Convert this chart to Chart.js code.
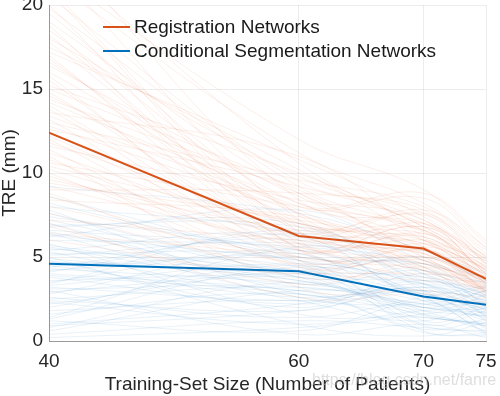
<!DOCTYPE html>
<html>
<head>
<meta charset="utf-8">
<script src="https://cdn.jsdelivr.net/npm/chart.js@4/dist/chart.umd.min.js"></script>
<style>
  html, body { margin: 0; padding: 0; background: #fff; }
  #frame { position: relative; width: 500px; height: 396px; overflow: hidden; }
  #box { position: absolute; left: 0; top: -5px; width: 500px; height: 401px; }
</style>
</head>
<body>
<div id="frame"><div id="box"><canvas id="c"></canvas></div></div>
<script>
// ---- data ----
const trainingSizes = [40, 60, 70, 75];
const xTickValues = [40, 60, 70, 75];
const yTickValues = [0, 5, 10, 15, 20];

const registrationLabel = 'Registration Networks';
const segmentationLabel = 'Conditional Segmentation Networks';

const registrationMean = [12.4, 6.25, 5.5, 3.7];
const segmentationMean = [4.6, 4.15, 2.65, 2.15];

// individual (faint) runs
const registrationRuns = [
  [20.5, 9.5, 7.8, 4.6], [19.0, 8.8, 6.5, 4.2], [18.2, 7.0, 7.5, 5.0], [17.5, 10.2, 6.0, 3.9],
  [16.8, 6.5, 5.2, 3.5], [16.0, 8.0, 8.5, 5.5], [15.5, 5.6, 6.8, 4.0], [15.0, 9.0, 5.0, 3.2],
  [14.6, 7.2, 4.6, 3.8], [14.0, 6.0, 7.0, 4.4], [13.6, 11.0, 6.2, 3.6], [13.2, 5.0, 5.8, 4.8],
  [12.8, 7.6, 4.2, 3.0], [12.4, 6.8, 6.6, 3.4], [12.0, 4.8, 5.4, 4.1], [11.6, 8.4, 7.2, 3.7],
  [11.2, 6.2, 4.8, 2.8], [10.8, 5.4, 6.0, 4.5], [10.4, 7.0, 5.6, 3.3], [10.0, 4.5, 4.0, 3.9],
  [9.6, 6.6, 6.4, 4.2], [9.2, 5.8, 5.2, 3.1], [8.8, 3.8, 4.4, 3.6], [8.4, 7.4, 5.0, 2.9],
  [8.0, 5.2, 6.8, 4.0], [7.6, 4.2, 3.6, 3.2], [7.2, 6.0, 5.4, 3.8], [6.8, 3.4, 4.6, 2.7],
  [6.4, 5.0, 3.8, 3.5], [6.0, 4.0, 5.0, 3.0], [22.0, 12.0, 9.0, 5.8], [21.0, 6.5, 5.5, 3.6],
  [19.5, 7.5, 4.8, 3.3], [18.0, 9.8, 7.2, 4.7], [17.0, 5.5, 4.2, 2.6], [16.4, 8.6, 6.0, 4.3],
  [13.0, 9.6, 8.0, 5.2], [11.0, 3.2, 3.0, 2.5], [9.0, 8.8, 7.6, 4.6], [7.0, 2.6, 2.8, 2.2],
  [23.0, 10.6, 6.8, 4.9], [20.0, 5.8, 6.2, 3.4], [14.2, 8.2, 5.6, 2.9], [10.2, 6.4, 7.8, 5.4],
  [24.0, 8.4, 7.0, 5.1], [22.5, 7.2, 5.8, 4.0], [21.5, 11.2, 8.2, 5.6], [20.8, 6.0, 4.4, 3.1],
  [19.8, 9.2, 6.6, 4.4], [18.8, 5.4, 5.0, 3.7], [18.5, 8.2, 8.8, 6.0], [17.8, 6.8, 6.2, 4.1],
  [17.2, 10.8, 7.4, 4.8], [16.6, 7.6, 5.4, 3.4], [15.8, 4.8, 4.8, 3.0], [15.2, 10.0, 6.8, 4.6],
  [14.8, 6.4, 7.6, 5.0], [14.4, 8.8, 5.2, 3.5], [13.8, 5.4, 6.4, 4.2], [13.4, 7.8, 4.4, 3.3],
  [12.6, 9.2, 7.0, 4.9], [12.2, 5.8, 4.6, 2.9], [11.8, 7.0, 6.0, 3.9], [11.4, 4.4, 5.6, 4.3],
  [10.6, 8.0, 6.6, 3.6], [9.8, 5.6, 4.2, 3.2], [9.4, 7.2, 5.8, 4.4], [8.6, 4.6, 5.4, 3.0]
];
const segmentationRuns = [
  [0.4, 1.2, 0.8, 0.5], [0.8, 3.5, 1.5, 1.0], [1.2, 0.6, 2.4, 1.6], [1.6, 2.8, 0.5, 0.3],
  [2.0, 4.5, 2.0, 2.4], [2.4, 1.8, 3.2, 1.2], [2.8, 5.2, 1.2, 2.0], [3.2, 2.4, 2.8, 0.8],
  [3.6, 4.0, 3.8, 2.8], [4.0, 3.0, 1.8, 1.5], [4.4, 6.0, 2.6, 3.2], [4.8, 2.0, 4.0, 2.2],
  [5.2, 4.8, 1.0, 1.8], [5.6, 3.2, 3.0, 2.6], [6.0, 5.6, 4.4, 1.4], [6.4, 2.6, 2.2, 3.0],
  [6.8, 7.0, 3.4, 2.4], [7.2, 4.2, 5.0, 3.6], [7.6, 3.8, 2.0, 1.7], [8.0, 6.4, 3.6, 2.9],
  [8.6, 5.0, 4.6, 3.4], [9.2, 7.6, 5.4, 4.0], [3.0, 0.4, 1.0, 0.2], [5.0, 1.0, 0.3, 1.1],
  [1.0, 2.2, 3.6, 2.6], [2.2, 3.8, 0.9, 0.6], [4.2, 5.0, 2.9, 1.9], [5.8, 1.6, 1.4, 0.9],
  [7.0, 3.4, 4.2, 2.7], [3.4, 6.6, 3.0, 1.3], [0.2, 0.8, 1.6, 2.1], [4.6, 4.4, 0.6, 0.4],
  [6.2, 7.8, 4.8, 3.8], [2.6, 1.4, 2.6, 3.3], [8.2, 4.6, 1.6, 1.0], [1.4, 5.6, 4.0, 2.3],
  [3.8, 2.2, 3.4, 1.8], [5.4, 6.2, 2.4, 2.5], [7.8, 2.8, 3.0, 0.7], [0.6, 3.0, 2.2, 1.4],
  [4.9, 3.6, 2.0, 3.0], [6.6, 5.4, 3.2, 1.6], [2.9, 4.2, 4.6, 2.0], [5.3, 2.4, 1.2, 2.8],
  [3.3, 4.6, 3.4, 2.2], [4.3, 3.4, 2.4, 1.2], [5.1, 5.8, 3.8, 2.6], [3.9, 2.8, 1.6, 0.9],
  [4.7, 4.2, 2.8, 1.9], [5.7, 3.6, 2.2, 2.3], [6.3, 4.8, 3.6, 3.1], [2.5, 3.2, 2.0, 1.5],
  [3.5, 5.4, 2.6, 0.5], [4.5, 2.6, 3.2, 2.7], [6.9, 6.8, 4.0, 2.0], [1.8, 2.4, 1.4, 1.1],
  [5.5, 4.0, 1.8, 0.6], [7.4, 5.2, 2.8, 2.2], [2.3, 1.0, 1.8, 1.9], [4.1, 6.4, 4.2, 3.5],
  [0.9, 1.8, 3.0, 1.7], [3.1, 3.0, 0.7, 1.3], [6.5, 3.8, 3.4, 1.5], [1.3, 4.4, 2.6, 0.4]
];

const xTitle = 'Training-Set Size (Number of Patients)';
const yTitle = 'TRE (mm)';
const watermark = 'https://blog.csdn.net/fanre';

// ---- build ----
const ORANGE = '#D95319';
const BLUE = '#0072BD';
const FONT = '"Liberation Sans", Arial, Helvetica, sans-serif';

function toPoints(vals) { return vals.map((v, i) => ({ x: trainingSizes[i], y: v })); }

const datasets = [];
registrationRuns.forEach(r => datasets.push({
  data: toPoints(r), borderColor: 'rgba(217,83,25,0.09)', borderWidth: 1,
  pointRadius: 0, tension: 0.4
}));
segmentationRuns.forEach(r => datasets.push({
  data: toPoints(r), borderColor: 'rgba(0,114,189,0.09)', borderWidth: 1,
  pointRadius: 0, tension: 0.4
}));
datasets.push({ label: registrationLabel, data: toPoints(registrationMean), borderColor: ORANGE, borderWidth: 2, pointRadius: 0, tension: 0 });
datasets.push({ label: segmentationLabel, data: toPoints(segmentationMean), borderColor: BLUE, borderWidth: 2, pointRadius: 0, tension: 0 });

const overlay = {
  id: 'overlay',
  afterDraw(chart) {
    const ctx = chart.ctx;
    const items = chart.data.datasets.filter(d => d.label);
    ctx.save();
    ctx.font = '19px ' + FONT;
    ctx.textBaseline = 'middle';
    items.forEach((d, i) => {
      const y = 32 + i * 24;
      ctx.strokeStyle = d.borderColor;
      ctx.lineWidth = 2;
      ctx.beginPath(); ctx.moveTo(103, y); ctx.lineTo(130, y); ctx.stroke();
      ctx.fillStyle = '#1a1a1a';
      ctx.fillText(d.label, 134, y + 1);
    });
    ctx.font = '16px ' + FONT;
    ctx.fillStyle = 'rgba(190,190,190,0.5)';
    ctx.textAlign = 'left';
    ctx.fillText(watermark, 312, 386);
    ctx.restore();
  }
};

new Chart(document.getElementById('c'), {
  type: 'line',
  data: { datasets },
  plugins: [overlay],
  options: {
    responsive: true, maintainAspectRatio: false, animation: false,
    layout: { padding: { left: 0, right: 14, top: 10, bottom: 0 } },
    plugins: { legend: { display: false }, tooltip: { enabled: false } },
    scales: {
      x: {
        type: 'linear', min: 40, max: 75,
        afterBuildTicks(s) { s.ticks = xTickValues.map(v => ({ value: v })); },
        afterFit(s) { s.height = 55; s.paddingLeft = 0; s.paddingRight = 0; },
        grid: { color: 'rgba(0,0,0,0.07)', drawTicks: false },
        border: { color: '#9a9a9a', width: 1 },
        ticks: { color: '#262626', font: { family: FONT, size: 19 }, padding: 9, maxRotation: 0 },
        title: { display: true, text: xTitle, color: '#262626', font: { family: FONT, size: 19 }, padding: { top: 0, bottom: 0 } }
      },
      y: {
        min: 0, max: 20,
        afterBuildTicks(s) { s.ticks = yTickValues.map(v => ({ value: v })); },
        afterFit(s) { s.width = 49; s.paddingTop = 0; s.paddingBottom = 0; },
        grid: { color: 'rgba(0,0,0,0.07)', drawTicks: false },
        border: { color: '#9a9a9a', width: 1 },
        ticks: { color: '#262626', font: { family: FONT, size: 19 }, padding: 6 },
        title: { display: true, text: yTitle, color: '#262626', font: { family: FONT, size: 19, lineHeight: 1 }, padding: { top: 0, bottom: 0 } }
      }
    }
  }
});
</script>
</body>
</html>
